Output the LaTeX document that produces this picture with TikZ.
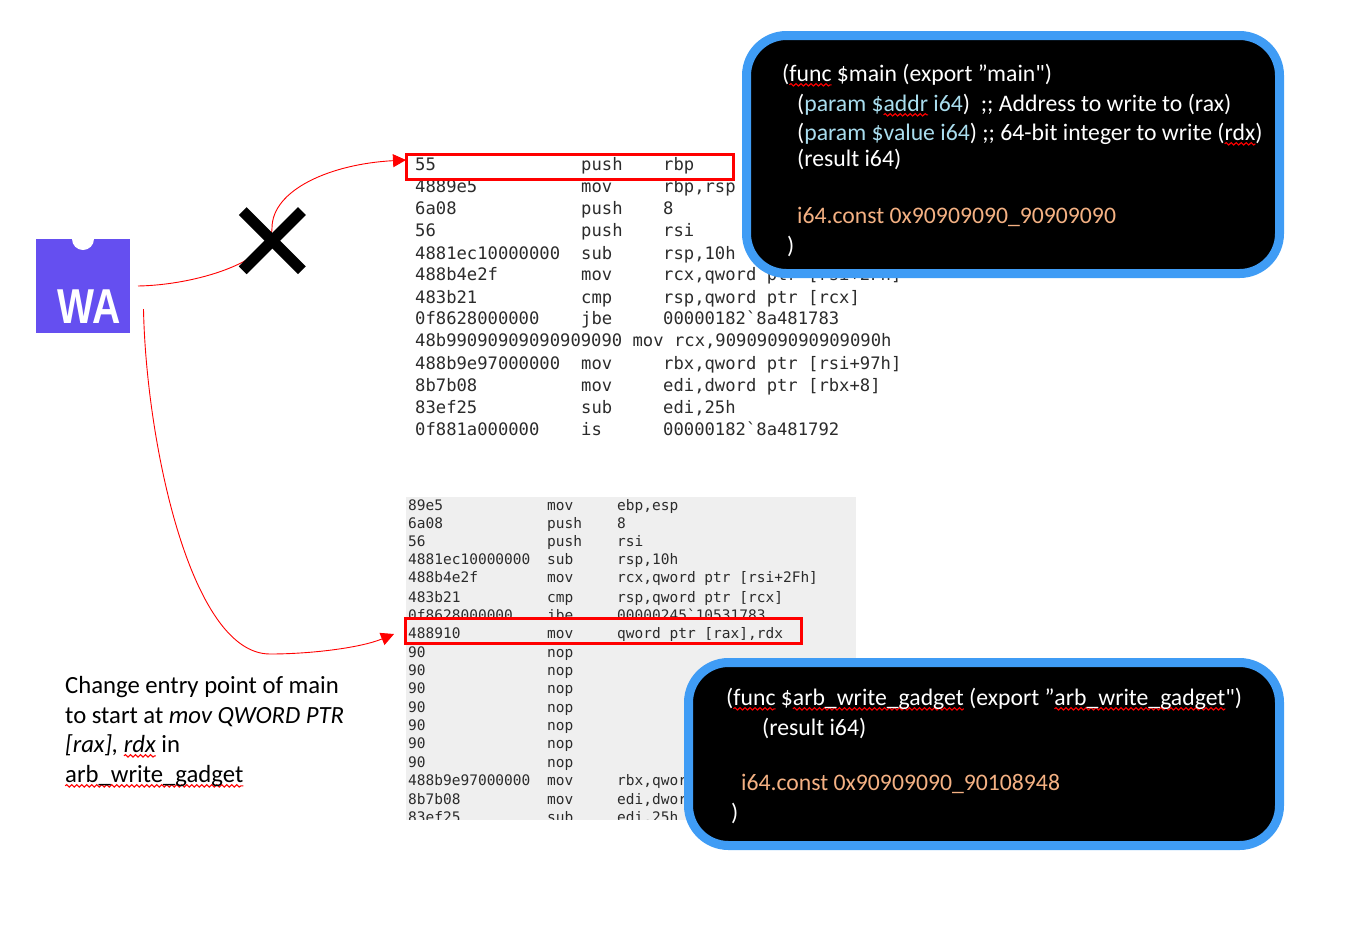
\documentclass[tikz,border=0pt]{standalone}
\usepackage{fontspec}
\usetikzlibrary{decorations.pathmorphing,arrows.meta}
\setmainfont{Carlito}
\newfontfamily\plainq{Carlito}
\newfontfamily\codefont{DejaVu Sans Mono}
\newfontfamily\logofont{Liberation Sans}
\definecolor{wablue}{HTML}{654FF0}
\definecolor{calloutblue}{HTML}{3F9CF5}
\definecolor{paramblue}{HTML}{A9DDEE}
\definecolor{constpeach}{HTML}{F4B183}
\definecolor{panelgrey}{HTML}{EFEFEF}
\definecolor{codeink}{HTML}{2B2B2B}
\definecolor{markred}{HTML}{FF0000}
\newcommand\squig[1]{\setbox0\hbox{#1}\rlap{\tikz[overlay,baseline=0pt]\draw[markred,line width=1.1pt,decorate,decoration={snake,amplitude=1.2pt,segment length=5pt}] (0pt,-3.8pt) -- (\wd0,-3.8pt);}\box0\relax}
\newcommand\straightq{{\plainq"}}
\newcommand\toprow[5]{%
  \node[topcode] (#1a) at (415,#2) {#3};
  \node[topcode] (#1b) at (581,#2) {#4};
  \node[topcode] (#1c) at (663,#2) {#5};}
\newcommand\botrow[5]{%
  \node[botcode] (#1a) at (408,#2) {#3};
  \node[botcode] (#1b) at (547,#2) {#4};
  \node[botcode] (#1c) at (617,#2) {#5};}
\tikzset{
  topcode/.style={anchor=base west,inner sep=0pt,text=codeink,font=\codefont\fontsize{17.2}{20}\selectfont},
  botcode/.style={anchor=base west,inner sep=0pt,text=codeink,font=\codefont\fontsize{14.5}{17}\selectfont},
  calloutbox/.style={draw=calloutblue,fill=black,line width=9pt,rounded corners=40pt,inner sep=0pt,outer sep=0pt,anchor=north west},
  callouttext/.style={anchor=base west,inner sep=0pt,text=white,font=\fontsize{23.7}{28}\selectfont},
  redbox/.style={draw=markred,line width=3pt,inner sep=0pt,outer sep=0pt,anchor=north west},
  notetext/.style={anchor=base west,inner sep=0pt,text=black,font=\fontsize{24.7}{29}\selectfont},
  curve/.style={draw=markred,line width=.9pt,-{Triangle[length=13pt,width=13pt]}},
}
\begin{document}
\begin{tikzpicture}[x=1pt,y=-1pt]
\useasboundingbox (0,0) rectangle (1358,930);
% logo
\node[fill=wablue,minimum width=94pt,minimum height=94pt,inner sep=0pt,outer sep=0pt,anchor=north west] (wa) at (36,239) {};
\fill[white] (72,239) arc[start angle=180,end angle=0,radius=11] -- cycle;
\node[inner sep=0pt,anchor=base,text=white,font=\logofont\bfseries\fontsize{49}{50}\selectfont] (walabel) at (89.5,323) {\scalebox{0.8}[1]{WA}};
% top listing
\toprow{ta}{170}{55}{push}{rbp}
\toprow{tb}{192}{4889e5}{mov}{rbp,rsp}
\toprow{tc}{214}{6a08}{push}{8}
\toprow{td}{236}{56}{push}{rsi}
\toprow{te}{259}{4881ec10000000}{sub}{rsp,10h}
\toprow{tf}{280}{488b4e2f}{mov}{rcx,qword ptr [rsi+2Fh]}
\toprow{tg}{303}{483b21}{cmp}{rsp,qword ptr [rcx]}
\toprow{th}{324}{0f8628000000}{jbe}{00000182`8a481783}
\node[topcode] (ti) at (415,346) {48b99090909090909090 mov rcx,9090909090909090h};
\toprow{tj}{369}{488b9e97000000}{mov}{rbx,qword ptr [rsi+97h]}
\toprow{tk}{391}{8b7b08}{mov}{edi,dword ptr [rbx+8]}
\toprow{tl}{413}{83ef25}{sub}{edi,25h}
\toprow{tm}{435}{0f881a000000}{is}{00000182`8a481792}
\node[redbox,minimum width=327pt,minimum height=25pt] (topmark) at (406,154) {};
% bottom listing
\node[fill=panelgrey,inner sep=0pt,outer sep=0pt,minimum width=450pt,minimum height=323pt,anchor=north west] (panel) at (406,497) {};
\botrow{ba}{510}{89e5}{mov}{ebp,esp}
\botrow{bb}{528}{6a08}{push}{8}
\botrow{bc}{546}{56}{push}{rsi}
\botrow{bd}{564.5}{4881ec10000000}{sub}{rsp,10h}
\botrow{be}{582.5}{488b4e2f}{mov}{rcx,qword ptr [rsi+2Fh]}
\botrow{bf}{602}{483b21}{cmp}{rsp,qword ptr [rcx]}
\botrow{bg}{620}{0f8628000000}{jbe}{00000245`10531783}
\fill[panelgrey] (406,617) rectangle (856,644);
\botrow{bh}{638}{488910}{mov}{qword ptr [rax],rdx}
\botrow{bi}{657}{90}{nop}{}
\botrow{bj}{675}{90}{nop}{}
\botrow{bk}{693.5}{90}{nop}{}
\botrow{bl}{712}{90}{nop}{}
\botrow{bm}{730}{90}{nop}{}
\botrow{bn}{748.5}{90}{nop}{}
\botrow{bo}{767}{90}{nop}{}
\botrow{bp}{785}{488b9e97000000}{mov}{rbx,qword}
\botrow{bq}{804}{8b7b08}{mov}{edi,dword}
\botrow{br}{822}{83ef25}{sub}{edi,25h}
\fill[white] (400,820) rectangle (860,830);
\node[redbox,minimum width=396pt,minimum height=25pt] (botmark) at (405,618) {};
% connectors
\draw[curve] ([xshift=8pt]wa.east) .. controls (195,285) and (272,262) .. (272,228) .. controls (272,190) and (330,164) .. ([yshift=6.5pt]topmark.west);
\draw[curve] ([xshift=13.5pt,yshift=-23pt]wa.east) .. controls (146,440) and (190,654) .. (270,654) .. controls (310,654) and (360,648) .. ([xshift=-11pt,yshift=-3.5pt]botmark.west);
% cross
\coordinate (xc) at (272.3,240.7);
\draw[black,line width=11pt] ([xshift=-29.6pt,yshift=29.6pt]xc) -- ([xshift=29.6pt,yshift=-29.6pt]xc);
\draw[black,line width=11pt] ([xshift=-29.6pt,yshift=-29.6pt]xc) -- ([xshift=29.6pt,yshift=29.6pt]xc);
% upper callout
\node[calloutbox,minimum width=533pt,minimum height=238pt] (mainbox) at (746.5,35.5) {};
\node[callouttext] (m1) at (782,81) {(\squig{func} \$main (export ”main\straightq)};
\node[callouttext] (m2) at (797,111) {(\textcolor{paramblue}{param \$\squig{addr} i64}) \ ;; Address to write to (rax)};
\node[callouttext] (m3) at (797,140) {(\textcolor{paramblue}{param \$value i64}) ;; 64-bit integer to write (\squig{rdx})};
\node[callouttext] (m4) at (797,166) {(result i64)};
\node[callouttext,text=constpeach] (m5) at (797,223) {i64.const 0x90909090\_90909090};
\node[callouttext] (m6) at (787,253) {)};
% lower callout
\node[calloutbox,minimum width=591pt,minimum height=183pt] (gadgetbox) at (688.5,662.5) {};
\node[callouttext] (g1) at (726,705) {(\squig{func} \$\squig{arb\_write\_gadget} (export ”\squig{arb\_write\_gadget}\straightq)};
\node[callouttext] (g2) at (762,735) {(result i64)};
\node[callouttext,text=constpeach] (g3) at (741,790) {i64.const 0x90909090\_90108948};
\node[callouttext] (g4) at (731,820) {)};
% note
\node[notetext] (n1) at (65,693) {Change entry point of main};
\node[notetext] (n2) at (65,723) {to start at \textit{mov QWORD PTR}};
\node[notetext] (n3) at (65,752) {\textit{[rax], \squig{rdx}} in};
\node[notetext] (n4) at (65,782) {\squig{arb\_write\_gadget}};
\end{tikzpicture}
\end{document}
